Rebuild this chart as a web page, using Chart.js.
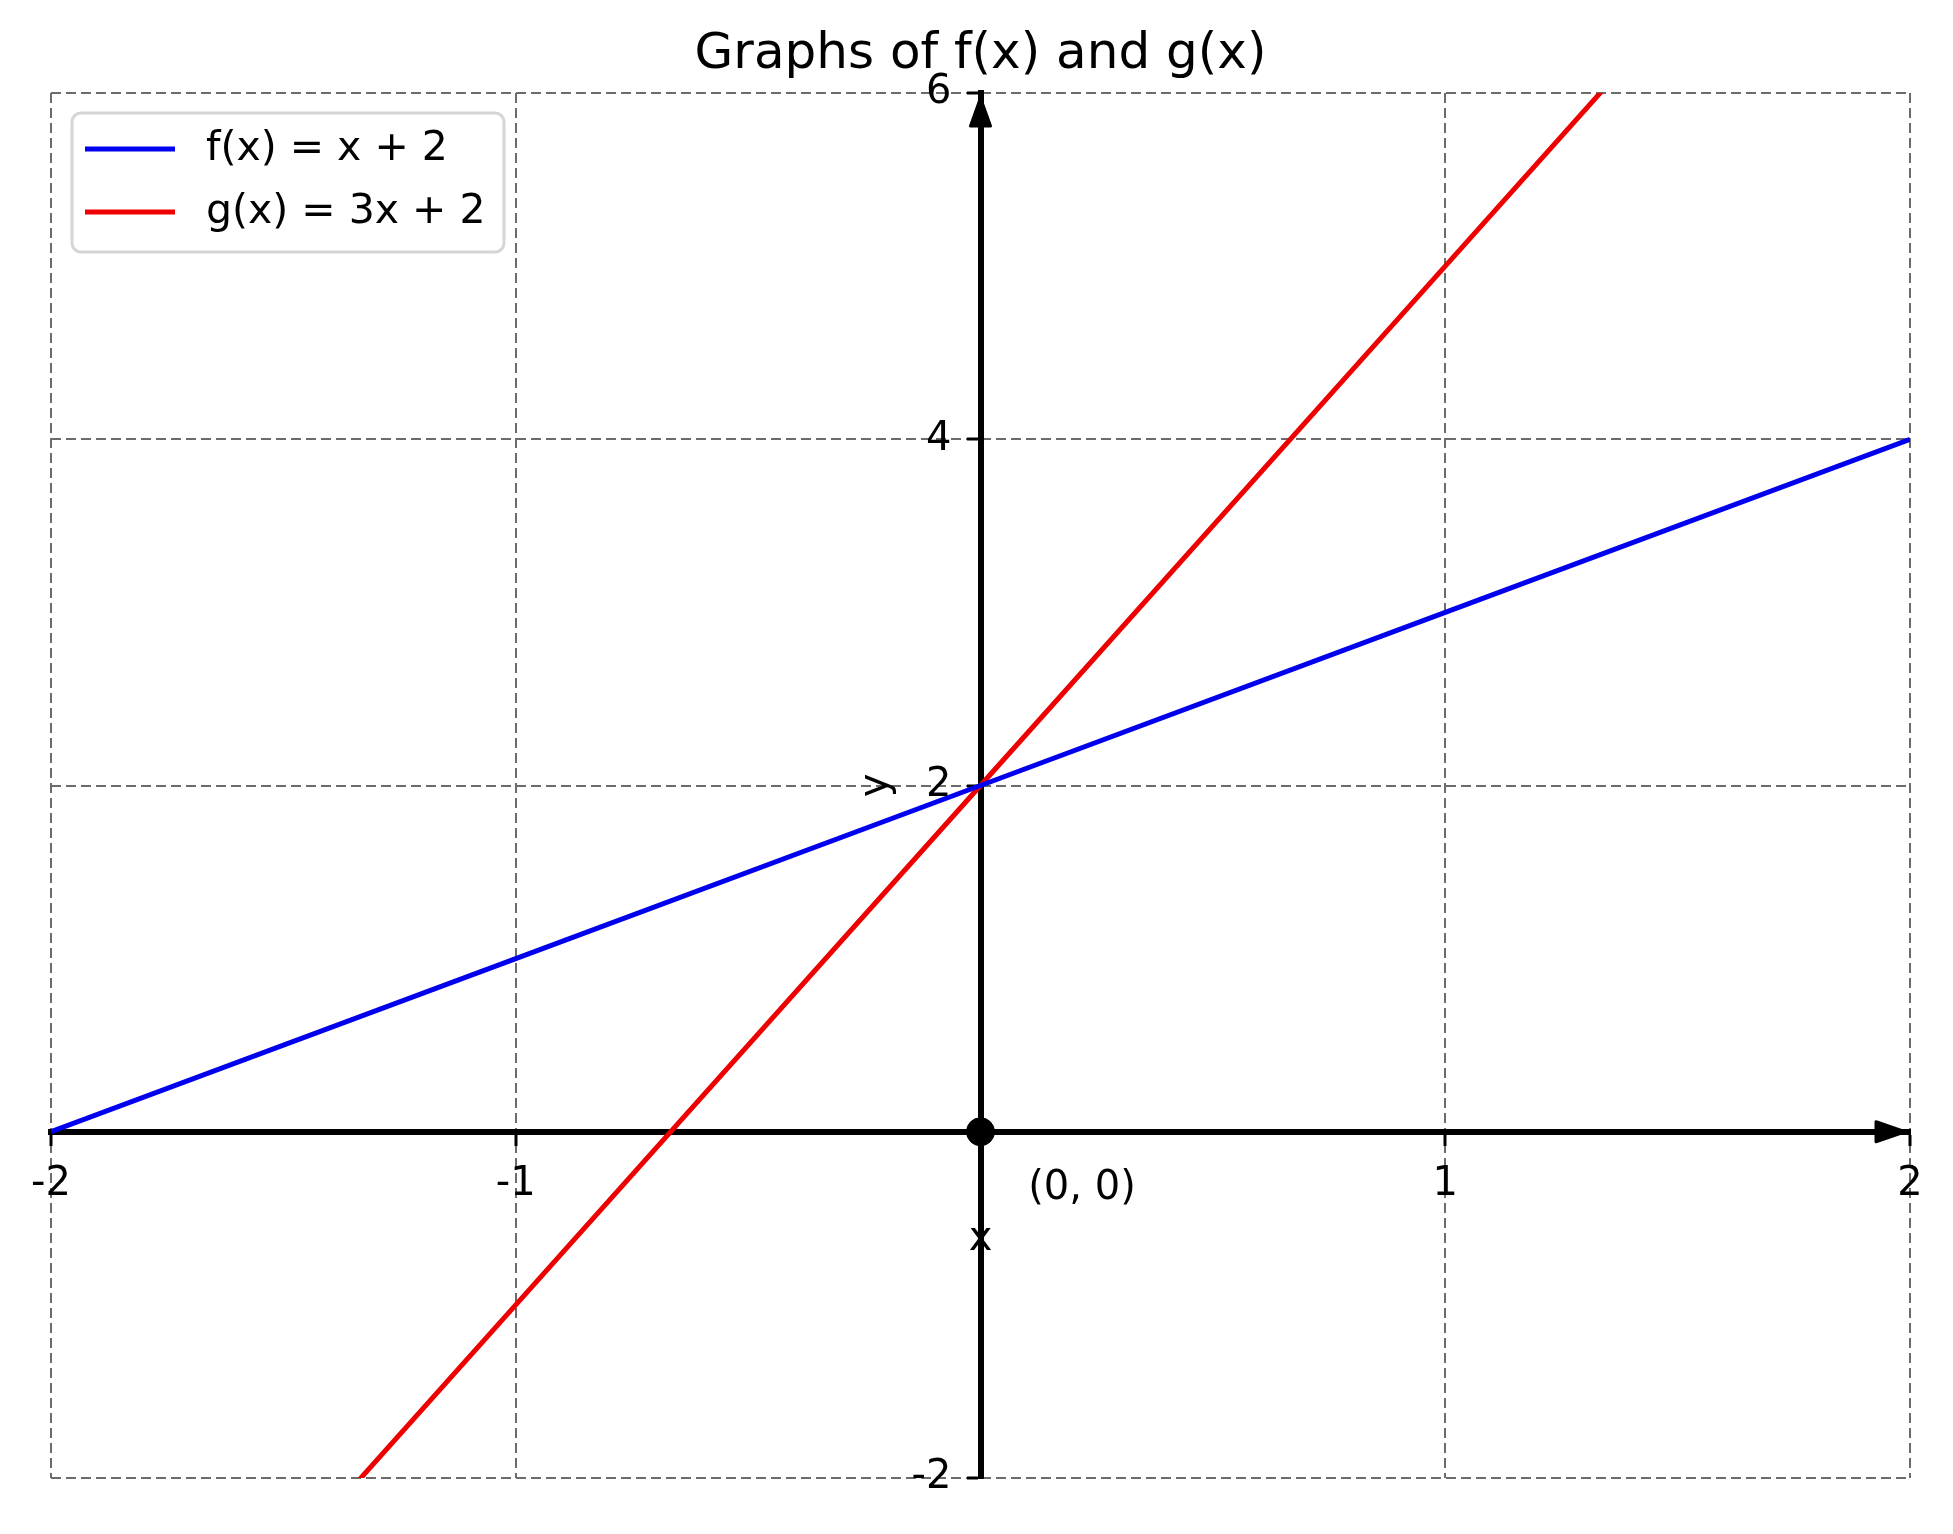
<!DOCTYPE html>
<html>
<head>
<meta charset="utf-8">
<title>Graphs of f(x) and g(x)</title>
<script src="https://cdn.jsdelivr.net/npm/chart.js@4.4.1/dist/chart.umd.min.js"></script>
<style>
    html, body { margin: 0; padding: 0; background: #ffffff; }
    #wrap { width: 1953px; height: 1534px; position: relative; }
</style>
</head>
<body>
<div id="wrap"><canvas id="graphChart"></canvas></div>
<script>
// values
const xValues = [-2, -1, 0, 1, 2];
const fValues = [0, 1, 2, 3, 4];     // f(x) = x + 2
const gValues = [-4, -1, 2, 5, 8];   // g(x) = 3x + 2
const origin = [{ x: 0, y: 0 }];
const xTickValues = [-2, -1, 1, 2];
const yTickValues = [-2, 2, 4, 6];
const seriesLabels = ['f(x) = x + 2', 'g(x) = 3x + 2'];

const FONT = 'DejaVu Sans';

const toPoints = (xs, ys) => xs.map((x, i) => ({ x: x, y: ys[i] }));

// arrows at the ends of the axes, y tick labels, axis names, origin label, legend box
const extrasPlugin = {
    id: 'extras',
    afterDatasetsDraw(chart) {
        const ctx = chart.ctx;
        const xs = chart.scales.x;
        const ys = chart.scales.y;
        const area = chart.chartArea;
        const x0 = xs.getPixelForValue(0);
        const y0 = ys.getPixelForValue(0);

        ctx.save();
        ctx.fillStyle = '#000';
        ctx.strokeStyle = '#000';
        ctx.lineJoin = 'round';
        ctx.lineWidth = 3;
        // right arrow
        ctx.beginPath();
        ctx.moveTo(area.right - 5, y0);
        ctx.lineTo(area.right - 34, y0 - 10);
        ctx.lineTo(area.right - 34, y0 + 10);
        ctx.closePath();
        ctx.fill(); ctx.stroke();
        // up arrow
        ctx.beginPath();
        ctx.moveTo(x0, area.top + 5);
        ctx.lineTo(x0 - 10, area.top + 33);
        ctx.lineTo(x0 + 10, area.top + 33);
        ctx.closePath();
        ctx.fill(); ctx.stroke();

        ctx.font = '40px "' + FONT + '"';
        ctx.textBaseline = 'middle';

        // y tick labels, left of the centred axis
        ctx.textAlign = 'right';
        yTickValues.forEach(v => {
            ctx.fillText(String(v), x0 - 29, ys.getPixelForValue(v));
        });

        // axis names and origin label
        ctx.textAlign = 'center';
        ctx.fillText('x', x0, 1240);
        ctx.fillText('(0, 0)', 1082, 1189);
        ctx.save();
        ctx.translate(877, (area.top + area.bottom) / 2);
        ctx.rotate(-Math.PI / 2);
        ctx.fillText('y', 0, 0);
        ctx.restore();

        // legend
        ctx.beginPath();
        ctx.roundRect(72, 113, 432, 139, 9);
        ctx.fillStyle = 'rgba(255,255,255,0.85)';
        ctx.fill();
        ctx.lineWidth = 3;
        ctx.strokeStyle = '#d5d5d5';
        ctx.stroke();
        ctx.textAlign = 'left';
        ctx.lineCap = 'butt';
        ctx.font = '41px "' + FONT + '"';
        const rowY = [149, 212];
        seriesLabels.forEach((label, i) => {
            const ds = chart.data.datasets[i];
            ctx.strokeStyle = ds.borderColor;
            ctx.lineWidth = 5;
            ctx.beginPath();
            ctx.moveTo(85, rowY[i]);
            ctx.lineTo(175, rowY[i]);
            ctx.stroke();
            ctx.fillStyle = '#000';
            ctx.fillText(label, 206, rowY[i]);
        });
        ctx.restore();
    }
};

const gridStyle = {
    color: '#6b6b6b',
    lineWidth: 2,
    tickColor: '#000',
    tickWidth: 3,
    tickLength: 11,
    tickBorderDash: []
};
const axisBorder = { display: true, color: '#000', width: 6, dash: [10, 5] };

new Chart(document.getElementById('graphChart'), {
    type: 'scatter',
    data: {
        datasets: [
            {
                label: seriesLabels[0],
                data: toPoints(xValues, fValues),
                showLine: true,
                borderColor: '#0000ee',
                borderWidth: 5,
                pointRadius: 0
            },
            {
                label: seriesLabels[1],
                data: toPoints(xValues, gValues),
                showLine: true,
                borderColor: '#ee0000',
                borderWidth: 5,
                pointRadius: 0
            },
            {
                label: 'origin',
                data: origin,
                pointRadius: 14,
                pointHoverRadius: 14,
                backgroundColor: '#000',
                borderColor: '#000',
                clip: false
            }
        ]
    },
    options: {
        responsive: true,
        maintainAspectRatio: false,
        devicePixelRatio: 1,
        animation: false,
        events: [],
        layout: { padding: { left: 51, right: 43, top: 0, bottom: 56 } },
        plugins: {
            legend: { display: false },
            tooltip: { enabled: false },
            title: {
                display: true,
                text: 'Graphs of f(x) and g(x)',
                color: '#000',
                font: { family: FONT, size: 50, weight: 'normal', lineHeight: 1.2 },
                padding: { top: 25, bottom: 8 }
            }
        },
        scales: {
            x: {
                type: 'linear',
                min: -2,
                max: 2,
                position: { y: 0 },
                afterBuildTicks: scale => { scale.ticks = xTickValues.map(v => ({ value: v })); },
                ticks: {
                    color: '#000',
                    font: { family: FONT, size: 40 },
                    padding: 18,
                    maxRotation: 0,
                    callback: v => String(v)
                },
                grid: Object.assign({}, gridStyle),
                border: Object.assign({}, axisBorder)
            },
            y: {
                type: 'linear',
                min: -2,
                max: 6,
                position: { x: 0 },
                afterBuildTicks: scale => { scale.ticks = yTickValues.map(v => ({ value: v })); },
                ticks: { display: false },
                grid: Object.assign({}, gridStyle),
                border: Object.assign({}, axisBorder)
            }
        }
    },
    plugins: [extrasPlugin]
});
</script>
</body>
</html>
